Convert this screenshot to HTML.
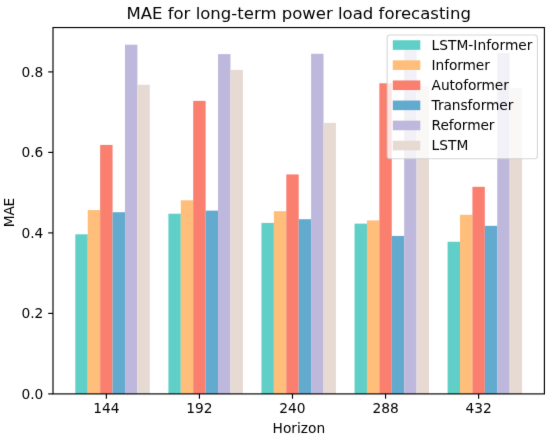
<!DOCTYPE html>
<html><head><meta charset="utf-8"><title>MAE for long-term power load forecasting</title><style>html,body{margin:0;padding:0;background:#fff;overflow:hidden;}svg{display:block;}text{font-family:"DejaVu Sans","Liberation Sans",sans-serif;fill:#000;}</style></head><body>
<svg width="550" height="437" viewBox="0 0 550 437">
<defs><filter id="soft" x="0" y="0" width="550" height="437" filterUnits="userSpaceOnUse" color-interpolation-filters="sRGB"><feConvolveMatrix order="3" kernelMatrix="0.00640 0.06720 0.00640 0.06720 0.70560 0.06720 0.00640 0.06720 0.00640" divisor="1" edgeMode="duplicate"/></filter></defs>
<g filter="url(#soft)">
<rect x="0" y="0" width="550" height="437" fill="#fff"/>
<g id="bars">
<rect x="75.33" y="234.31" width="12.41" height="159.59" fill="#60CFC7"/>
<rect x="87.74" y="210.08" width="12.41" height="183.82" fill="#FFBE7A"/>
<rect x="100.15" y="144.91" width="12.41" height="248.99" fill="#FA7F6F"/>
<rect x="112.56" y="212.21" width="12.41" height="181.69" fill="#63AACF"/>
<rect x="124.97" y="44.69" width="12.41" height="349.21" fill="#BEB8DC"/>
<rect x="137.38" y="84.78" width="12.41" height="309.12" fill="#E7DAD2"/>
<rect x="168.40" y="213.70" width="12.41" height="180.20" fill="#60CFC7"/>
<rect x="180.81" y="200.30" width="12.41" height="193.60" fill="#FFBE7A"/>
<rect x="193.22" y="100.88" width="12.41" height="293.02" fill="#FA7F6F"/>
<rect x="205.63" y="210.60" width="12.41" height="183.30" fill="#63AACF"/>
<rect x="218.04" y="54.11" width="12.41" height="339.79" fill="#BEB8DC"/>
<rect x="230.45" y="69.89" width="12.41" height="324.01" fill="#E7DAD2"/>
<rect x="261.47" y="222.92" width="12.41" height="170.98" fill="#60CFC7"/>
<rect x="273.88" y="211.21" width="12.41" height="182.69" fill="#FFBE7A"/>
<rect x="286.29" y="174.42" width="12.41" height="219.48" fill="#FA7F6F"/>
<rect x="298.70" y="219.21" width="12.41" height="174.69" fill="#63AACF"/>
<rect x="311.11" y="53.79" width="12.41" height="340.11" fill="#BEB8DC"/>
<rect x="323.52" y="122.90" width="12.41" height="271.00" fill="#E7DAD2"/>
<rect x="354.54" y="223.64" width="12.41" height="170.26" fill="#60CFC7"/>
<rect x="366.95" y="220.42" width="12.41" height="173.48" fill="#FFBE7A"/>
<rect x="379.36" y="83.29" width="12.41" height="310.61" fill="#FA7F6F"/>
<rect x="391.77" y="235.92" width="12.41" height="157.98" fill="#63AACF"/>
<rect x="404.17" y="46.94" width="12.41" height="346.95" fill="#BEB8DC"/>
<rect x="416.58" y="86.39" width="12.41" height="307.51" fill="#E7DAD2"/>
<rect x="447.61" y="241.75" width="12.41" height="152.15" fill="#60CFC7"/>
<rect x="460.02" y="214.79" width="12.41" height="179.11" fill="#FFBE7A"/>
<rect x="472.42" y="186.81" width="12.41" height="207.09" fill="#FA7F6F"/>
<rect x="484.83" y="225.82" width="12.41" height="168.08" fill="#63AACF"/>
<rect x="497.24" y="52.98" width="12.41" height="340.92" fill="#BEB8DC"/>
<rect x="509.65" y="88.00" width="12.41" height="305.90" fill="#E7DAD2"/>
</g>
<rect x="53.00" y="27.55" width="491.40" height="366.35" fill="none" stroke="#000" stroke-width="1.15"/>
<line x1="106.36" y1="393.90" x2="106.36" y2="398.72" stroke="#000" stroke-width="1.15"/>
<text x="106.36" y="413.1" font-size="13.76" text-anchor="middle">144</text>
<line x1="199.42" y1="393.90" x2="199.42" y2="398.72" stroke="#000" stroke-width="1.15"/>
<text x="199.42" y="413.1" font-size="13.76" text-anchor="middle">192</text>
<line x1="292.49" y1="393.90" x2="292.49" y2="398.72" stroke="#000" stroke-width="1.15"/>
<text x="292.49" y="413.1" font-size="13.76" text-anchor="middle">240</text>
<line x1="385.56" y1="393.90" x2="385.56" y2="398.72" stroke="#000" stroke-width="1.15"/>
<text x="385.56" y="413.1" font-size="13.76" text-anchor="middle">288</text>
<line x1="478.63" y1="393.90" x2="478.63" y2="398.72" stroke="#000" stroke-width="1.15"/>
<text x="478.63" y="413.1" font-size="13.76" text-anchor="middle">432</text>
<line x1="48.18" y1="393.90" x2="53.00" y2="393.90" stroke="#000" stroke-width="1.15"/>
<text x="43.36" y="398.55" font-size="13.76" text-anchor="end">0.0</text>
<line x1="48.18" y1="313.40" x2="53.00" y2="313.40" stroke="#000" stroke-width="1.15"/>
<text x="43.36" y="318.05" font-size="13.76" text-anchor="end">0.2</text>
<line x1="48.18" y1="232.90" x2="53.00" y2="232.90" stroke="#000" stroke-width="1.15"/>
<text x="43.36" y="237.55" font-size="13.76" text-anchor="end">0.4</text>
<line x1="48.18" y1="152.40" x2="53.00" y2="152.40" stroke="#000" stroke-width="1.15"/>
<text x="43.36" y="157.05" font-size="13.76" text-anchor="end">0.6</text>
<line x1="48.18" y1="71.90" x2="53.00" y2="71.90" stroke="#000" stroke-width="1.15"/>
<text x="43.36" y="76.55" font-size="13.76" text-anchor="end">0.8</text>
<text x="298.70" y="19.4" font-size="16.52" text-anchor="middle">MAE for long-term power load forecasting</text>
<text x="298.9" y="432.5" font-size="13.76" text-anchor="middle">Horizon</text>
<text transform="translate(14.2 212.5) rotate(-90)" x="0" y="0" font-size="13.76" textLength="29.3" lengthAdjust="spacing" text-anchor="middle">MAE</text>
<rect x="387.15" y="35.0" width="150.25" height="123.70" rx="2.75" ry="2.75" fill="#fff" fill-opacity="0.8" stroke="#ccc" stroke-opacity="0.8" stroke-width="1.1"/>
<rect x="392.8" y="40.25" width="27.5" height="9.6" fill="#60CFC7"/>
<text x="431.6" y="49.60" font-size="13.76" textLength="100.90" lengthAdjust="spacing">LSTM-Informer</text>
<rect x="392.8" y="60.35" width="27.5" height="9.6" fill="#FFBE7A"/>
<text x="431.6" y="69.70" font-size="13.76" textLength="58.25" lengthAdjust="spacing">Informer</text>
<rect x="392.8" y="80.45" width="27.5" height="9.6" fill="#FA7F6F"/>
<text x="431.6" y="89.80" font-size="13.76" textLength="77.30" lengthAdjust="spacing">Autoformer</text>
<rect x="392.8" y="100.55" width="27.5" height="9.6" fill="#63AACF"/>
<text x="431.6" y="109.90" font-size="13.76" textLength="81.80" lengthAdjust="spacing">Transformer</text>
<rect x="392.8" y="120.65" width="27.5" height="9.6" fill="#BEB8DC"/>
<text x="431.6" y="130.00" font-size="13.76" textLength="62.90" lengthAdjust="spacing">Reformer</text>
<rect x="392.8" y="140.75" width="27.5" height="9.6" fill="#E7DAD2"/>
<text x="431.6" y="150.10" font-size="13.76">LSTM</text>
</g>
</svg></body></html>
